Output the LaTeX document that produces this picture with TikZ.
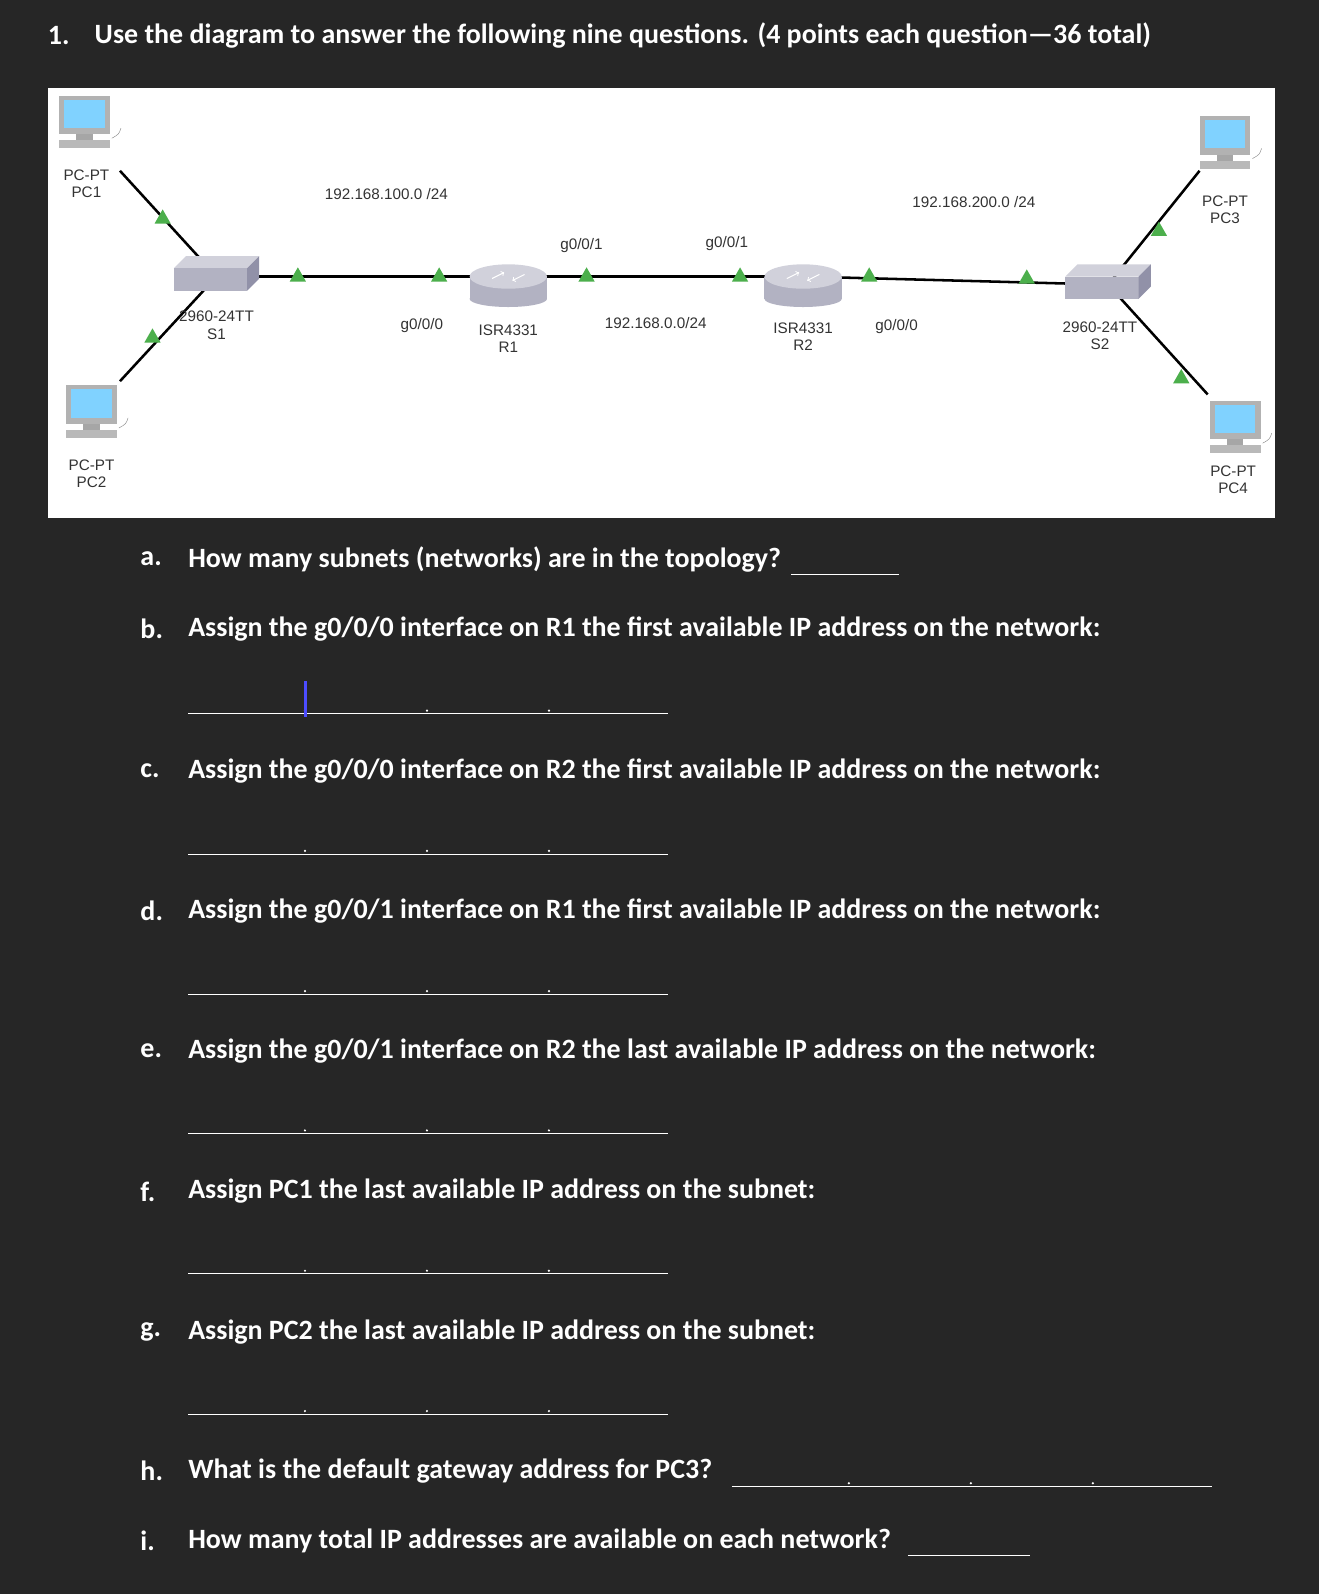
\documentclass[tikz,border=0pt]{standalone}
\usepackage{fontspec}
\setmainfont{Carlito}
\newfontfamily\arial{Liberation Sans}
\begin{document}
\begin{tikzpicture}[x=1pt,y=-1pt,
  q/.style={anchor=west,text=white,font=\bfseries\fontsize{27.5}{30}\selectfont,inner sep=0},
  lbl/.style={font=\arial\fontsize{15}{17}\selectfont,text=black!80,align=center,inner sep=0},
  link/.style={line width=2.5pt,black},
  tri/.style={fill=green!55!black!70,draw=none},
  blank/.style={white,line width=0.8pt}]
\fill[black!85] (0,0) rectangle (1297,1568);
\useasboundingbox (0,0) rectangle (1297,1568);
\node[q] (n1) at (47,35) {1.};
\node[q] (title) at (93,35) {Use the diagram to answer the following nine questions.  (4 points each question—36 total)};
\fill[white] (47,87) rectangle (1254,510);
% devices
\tikzset{pc/.pic={
  \fill[gray!60] (-25,-26) rectangle (25,12);
  \fill[blue!35!cyan!50] (-20,-22) rectangle (20,6);
  \fill[gray!70] (-8,12) rectangle (8,18);
  \fill[gray!55] (-25,18) rectangle (25,26);
  \draw[gray] (27,16) .. controls (34,12) .. (36,6);},
  sw/.pic={
  \fill[gray!50!blue!40!black!20] (-42,-8) -- (-30,-20) -- (42,-20) -- (30,-8) -- cycle;
  \fill[gray!60!blue!45!black!35] (-42,-8) rectangle (30,14);
  \fill[gray!60!blue!45!black!50] (30,-8) -- (42,-20) -- (42,2) -- (30,14) -- cycle;},
  rt/.pic={
  \fill[gray!60!blue!45!black!35] (-38,0) rectangle (38,22);
  \fill[gray!60!blue!45!black!35] (0,22) ellipse (38 and 8);
  \fill[gray!50!blue!40!black!20] (0,0) ellipse (38 and 12);
  \draw[white,line width=1pt,->] (-16,2) -- (-4,-4);
  \draw[white,line width=1pt,->] (16,-2) -- (4,4);}}
\coordinate (pc1) at (83,120); \coordinate (pc2) at (90,405);
\coordinate (pc3) at (1205,140); \coordinate (pc4) at (1215,420);
\coordinate (s1) at (213,272); \coordinate (s2) at (1090,280);
\coordinate (r1) at (500,272); \coordinate (r2) at (790,272);
\draw[link] (118,168) -- (s1);
\draw[link] (118,375) -- (s1);
\draw[link] (s1) -- (r1) -- (r2) -- (s2);
\draw[link] (s2) -- (1180,168);
\draw[link] (s2) -- (1188,388);
\pic at (pc1) {pc}; \pic at (pc2) {pc}; \pic at (pc3) {pc}; \pic at (pc4) {pc};
\pic at (s1) {sw}; \pic at (s2) {sw};
\pic at (r1) {rt}; \pic at (r2) {rt};
\foreach \x/\y in {160/213,150/330,293/270,432/270,577/270,728/270,855/270,1010/272,1140/225,1162/370}
  \fill[tri] (\x-8,\y+7) -- (\x+8,\y+7) -- (\x,\y-7) -- cycle;
\node[lbl] (lpc1) at (85,181) {PC-PT\\PC1};
\node[lbl] (lpc2) at (90,466) {PC-PT\\PC2};
\node[lbl] (lpc3) at (1205,206) {PC-PT\\PC3};
\node[lbl] (lpc4) at (1213,472) {PC-PT\\PC4};
\node[lbl] (ls1) at (213,320) {2960-24TT\\S1};
\node[lbl] (ls2) at (1082,330) {2960-24TT\\S2};
\node[lbl] (lr1) at (500,333) {ISR4331\\R1};
\node[lbl] (lr2) at (790,331) {ISR4331\\R2};
\node[lbl] (n100) at (380,191) {192.168.100.0 /24};
\node[lbl] (n200) at (958,199) {192.168.200.0 /24};
\node[lbl] (n0) at (645,318) {192.168.0.0/24};
\node[lbl] (i1) at (415,320) {g0/0/0};
\node[lbl] (i2) at (572,242) {g0/0/1};
\node[lbl] (i3) at (715,240) {g0/0/1};
\node[lbl] (i4) at (882,321) {g0/0/0};
% questions
\foreach \l/\y/\t in {a/550/{How many subnets (networks) are in the topology?},
  b/619/{Assign the g0/0/0 interface on R1 the first available IP address on the network:},
  c/758/{Assign the g0/0/0 interface on R2 the first available IP address on the network:},
  d/896/{Assign the g0/0/1 interface on R1 the first available IP address on the network:},
  e/1034/{Assign the g0/0/1 interface on R2 the last available IP address on the network:},
  f/1172/{Assign PC1 the last available IP address on the subnet:},
  g/1310/{Assign PC2 the last available IP address on the subnet:},
  h/1447/{What is the default gateway address for PC3?},
  i/1516/{How many total IP addresses are available on each network?}}{
  \node[q] (lt\l) at (138,\y) {\l.};
  \node[q] (qt\l) at (185,\y) {\t};}
\draw[blank] (778,565) -- (884,565);
\draw[blank] (893,1530) -- (1013,1530);
\foreach \y in {702,840,978,1115,1253,1391}{
  \draw[blank] (185,\y) -- (657,\y);
  \foreach \d in {300,420,540} \fill[white] (\d,\y-3) circle (1.2);}
\draw[blank] (720,1462) -- (1192,1462);
\foreach \d in {835,955,1075} \fill[white] (\d,1459) circle (1.2);
\fill[blue!70!white] (299,670) rectangle (302,705);
\end{tikzpicture}
\end{document}
